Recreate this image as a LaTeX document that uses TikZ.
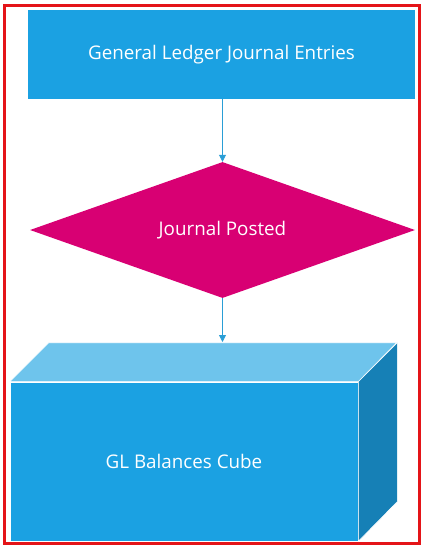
\documentclass[tikz,border=0pt]{standalone}
\usepackage{fontspec}
\setmainfont{Open Sans}
\usepackage{xcolor}
\usetikzlibrary{shapes.geometric,arrows.meta}

\definecolor{metroblue}{RGB}{27,161,226}
\definecolor{metrotop}{RGB}{110,196,236}
\definecolor{metroside}{RGB}{22,128,182}
\definecolor{metromagenta}{RGB}{216,0,115}
\definecolor{framered}{RGB}{228,20,24}
\definecolor{linkblue}{RGB}{42,158,214}

\tikzset{
  stepbox/.style={rectangle, fill=metroblue, text=white, inner sep=0pt},
  decision/.style={diamond, fill=metromagenta, text=white, inner sep=0pt, aspect=2.83},
  link/.style={draw=linkblue, line width=0.8pt, -{Triangle[width=7pt,length=7pt]}},
  face/.style={draw=white, line width=0.6pt}
}

\begin{document}
\begin{tikzpicture}[x=1pt,y=1pt,yscale=-1,xscale=1, every node/.style={font=\fontsize{18.8}{22}\selectfont}]
\useasboundingbox (0,0) rectangle (426,550);

%Shape: Rectangle [frame]
\draw [draw=framered, line width=3pt] (4.5,5.5) rectangle (419.5,543);

%Shape: Rectangle [entries]
\node [stepbox, minimum width=387, minimum height=89] (entries) at (221.5,54.5) {General Ledger Journal Entries};

%Shape: Diamond [posted]
\node [decision, minimum width=385, minimum height=136] (posted) at (222.5,230) {Journal Posted};

%Shape: Cube [cube]
\node [stepbox, face, minimum width=348, minimum height=159] (cube) at (184,461.5) {GL Balances Cube};
\draw [face, fill=metrotop] (cube.north west) -- ++(39,-39) -- ++(348,0) -- (cube.north east) -- cycle ;
\draw [face, fill=metroside] (cube.north east) -- ++(39,-39) -- ++(0,159) -- (cube.south east) -- cycle ;

%Straight Lines [links]
\draw [link] (entries.south -| posted.north) -- (posted.north) ;
\draw [link] (posted.south) -- (posted.south |- 0,342) ;

\end{tikzpicture}
\end{document}
